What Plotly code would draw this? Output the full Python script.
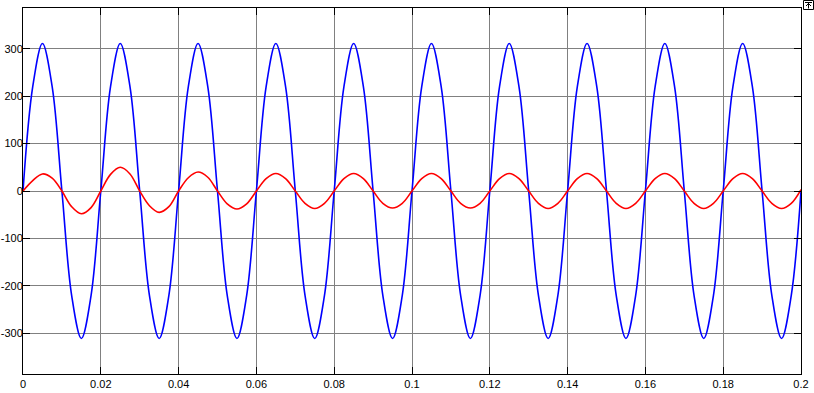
import plotly.graph_objects as go

# time samples (s), every 1/8 of a 50 Hz cycle
t = [i * 0.0025 for i in range(81)]

# voltage (blue)
voltage = [
    0, 220, 311, 220, 0, -220, -311, -220,
    0, 220, 311, 220, 0, -220, -311, -220,
    0, 220, 311, 220, 0, -220, -311, -220,
    0, 220, 311, 220, 0, -220, -311, -220,
    0, 220, 311, 220, 0, -220, -311, -220,
    0, 220, 311, 220, 0, -220, -311, -220,
    0, 220, 311, 220, 0, -220, -311, -220,
    0, 220, 311, 220, 0, -220, -311, -220,
    0, 220, 311, 220, 0, -220, -311, -220,
    0, 220, 311, 220, 0, -220, -311, -220,
    0,
]

# current (red)
current = [
    0, 22, 36, 27, 0, -33, -48, -35,
    0, 35, 50, 36, 0, -31, -45, -33,
    0, 28, 40, 29, 0, -27, -38, -27,
    0, 26, 37, 26, 0, -26, -37, -26,
    0, 26, 37, 26, 0, -26, -36, -26,
    0, 26, 37, 26, 0, -26, -36, -26,
    0, 26, 37, 26, 0, -26, -37, -26,
    0, 26, 37, 26, 0, -26, -37, -26,
    0, 26, 37, 26, 0, -26, -37, -26,
    0, 26, 37, 26, 0, -26, -37, -26,
    3,
]

x_ticks = [0, 0.02, 0.04, 0.06, 0.08, 0.1, 0.12, 0.14, 0.16, 0.18, 0.2]
x_tick_text = ["0", "0.02", "0.04", "0.06", "0.08", "0.1", "0.12", "0.14", "0.16", "0.18", "0.2"]
y_ticks = [-300, -200, -100, 0, 100, 200, 300]
y_tick_text = ["-300", "-200", "-100", "0", "100", "200", "300"]

fig = go.Figure()
fig.add_trace(go.Scatter(x=t, y=voltage, mode="lines",
                         line=dict(color="#0000FF", width=1.6, shape="spline", smoothing=1.0)))
fig.add_trace(go.Scatter(x=t, y=current, mode="lines",
                         line=dict(color="#FF0000", width=1.6, shape="spline", smoothing=1.0)))

axis_common = dict(
    showline=True, linecolor="black", linewidth=1, mirror="ticks",
    ticks="inside", ticklen=7, tickcolor="black",
    showgrid=True, gridcolor="#808080", gridwidth=1,
    zeroline=False, automargin=False,
    tickfont=dict(family="Liberation Sans, Arial, sans-serif", size=11, color="black"),
)

fig.update_xaxes(range=[0, 0.2], tickvals=x_ticks, ticktext=x_tick_text, **axis_common)
fig.update_yaxes(range=[-386, 386], tickvals=y_ticks, ticktext=y_tick_text,
                 ticklabelstandoff=-3, **axis_common)

# small scope "autoscale" icon in the top-right corner (pixel -> paper helpers)
L, T, W, H = 23, 8, 778, 366
def px(x):
    return (x - L) / W
def py(y):
    return 1 - (y - T) / H

icon_path = (f"M {px(805)},{py(2.5)} L {px(812)},{py(2.5)} "
             f"M {px(808.5)},{py(3)} L {px(808.5)},{py(8.5)} "
             f"M {px(806)},{py(6)} L {px(808.5)},{py(3.5)} L {px(811)},{py(6)}")

fig.update_layout(
    width=814, height=393,
    margin=dict(l=L, r=13, t=T, b=19),
    paper_bgcolor="white", plot_bgcolor="white",
    showlegend=False,
    shapes=[
        dict(type="rect", xref="paper", yref="paper",
             x0=px(803.5), x1=px(813.5), y0=py(9.5), y1=py(0.5),
             line=dict(color="black", width=1), fillcolor="white"),
        dict(type="path", xref="paper", yref="paper", path=icon_path,
             line=dict(color="black", width=1)),
    ],
)

fig.write_html("out.html")
